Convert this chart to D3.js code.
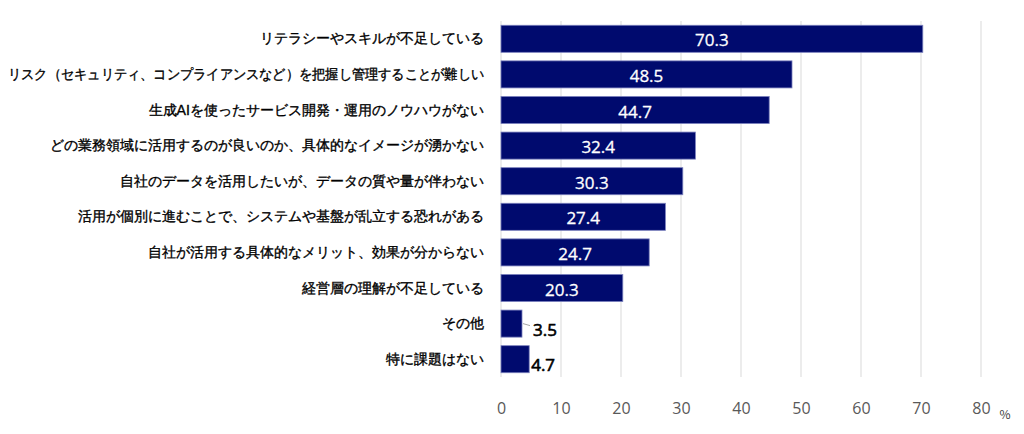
<!DOCTYPE html>
<html>
<head>
<meta charset="utf-8">
<script src="https://cdn.jsdelivr.net/npm/d3@7"></script>
<style>
  body { margin: 0; background: #fff; }
  svg { display: block; font-family: "Noto Sans CJK JP", "Noto Sans", sans-serif; }
  .cat { font-feature-settings: "palt" 1; }
</style>
</head>
<body>
<svg id="chart"></svg>
<script>
// Data
const categories = [
    'リテラシーやスキルが不足している',
    'リスク（セキュリティ、コンプライアンスなど）を把握し管理することが難しい',
    '生成AIを使ったサービス開発・運用のノウハウがない',
    'どの業務領域に活用するのが良いのか、具体的なイメージが湧かない',
    '自社のデータを活用したいが、データの質や量が伴わない',
    '活用が個別に進むことで、システムや基盤が乱立する恐れがある',
    '自社が活用する具体的なメリット、効果が分からない',
    '経営層の理解が不足している',
    'その他',
    '特に課題はない'
];
const values = [70.3, 48.5, 44.7, 32.4, 30.3, 27.4, 24.7, 20.3, 3.5, 4.7];
const tickValues = [0, 10, 20, 30, 40, 50, 60, 70, 80];

(function() {

    const w = 1024;
    const h = 434;
    const plotLeft = 501;
    const plotRight = 981;
    const plotTop = 21;
    const plotBottom = 377;

    const svg = d3.select('#chart').attr('width', w).attr('height', h);

    // Scales
    const scaleX = d3.scaleLinear().domain([0, 80]).range([plotLeft, plotRight]);
    const scaleY = d3.scaleBand().domain(categories).range([plotTop, plotBottom]).paddingInner(0.24).paddingOuter(0.12);

    // Grid lines
    svg.append('g')
        .selectAll('line')
        .data(tickValues)
        .enter()
        .append('line')
        .attr('x1', d => scaleX(d))
        .attr('x2', d => scaleX(d))
        .attr('y1', plotTop)
        .attr('y2', plotBottom)
        .attr('stroke', '#d9d9d9')
        .attr('stroke-width', 1);

    // X axis
    const xAxis = d3.axisBottom(scaleX).tickValues(tickValues).tickSize(0).tickPadding(0);
    const gx = svg.append('g')
        .attr('transform', `translate(0, ${plotBottom + 37})`)
        .call(xAxis);
    gx.select('.domain').remove();
    gx.selectAll('text')
        .attr('fill', '#595959')
        .attr('font-size', 16)
        .attr('dy', '0')
        .style('font-family', '"Open Sans", "Noto Sans", sans-serif');

    svg.append('text')
        .attr('x', 1005)
        .attr('y', 419)
        .attr('font-size', 12)
        .attr('fill', '#404040')
        .attr('text-anchor', 'middle')
        .text('%');

    // Y axis labels
    const yAxis = d3.axisLeft(scaleY).tickSize(0).tickPadding(17);
    const gy = svg.append('g')
        .attr('transform', `translate(${plotLeft}, 0)`)
        .call(yAxis);
    gy.select('.domain').remove();
    gy.selectAll('text')
        .attr('class', 'cat')
        .attr('fill', '#000')
        .attr('stroke', '#000')
        .attr('stroke-width', 0.35)
        .attr('font-size', 14.2)
        .attr('font-weight', 400);

    // squeeze labels that still run past the left edge
    gy.selectAll('text').each(function() {
        const len = this.getComputedTextLength();
        if (len > 476) {
            d3.select(this).attr('textLength', 476).attr('lengthAdjust', 'spacingAndGlyphs');
        }
    });

    // Bars
    svg.selectAll('rect.bar')
        .data(values)
        .enter()
        .append('rect')
        .attr('class', 'bar')
        .attr('x', scaleX(0))
        .attr('y', (d, i) => scaleY(categories[i]))
        .attr('width', d => scaleX(d) - scaleX(0))
        .attr('height', scaleY.bandwidth())
        .attr('fill', '#000a6e')
        .attr('stroke', '#7a80bd')
        .attr('stroke-width', 0.8);

    // Value labels
    const isSmall = d => d < 10;
    const midY = d => scaleY(categories[values.indexOf(d)]) + scaleY.bandwidth() / 2;

    // leader line for the tiniest bar
    svg.selectAll('line.leader')
        .data(values.filter(d => d < 4))
        .enter()
        .append('line')
        .attr('class', 'leader')
        .attr('x1', d => scaleX(d) + 1)
        .attr('x2', d => scaleX(d) + 8)
        .attr('y1', d => midY(d))
        .attr('y2', d => midY(d) + 2)
        .attr('stroke', '#a6a6a6')
        .attr('stroke-width', 1);

    svg.selectAll('text.val')
        .data(values)
        .enter()
        .append('text')
        .attr('class', 'val')
        .attr('x', d => isSmall(d) ? scaleX(d) + (d < 4 ? 11 : 2) : (scaleX(0) + scaleX(d)) / 2)
        .attr('y', d => midY(d) + (isSmall(d) ? 12 : 7.5))
        .attr('text-anchor', d => isSmall(d) ? 'start' : 'middle')
        .attr('fill', d => isSmall(d) ? '#000' : '#fff')
        .attr('stroke', d => isSmall(d) ? '#000' : '#fff')
        .attr('stroke-width', d => isSmall(d) ? 0.6 : 0.3)
        .attr('font-size', 17)
        .attr('font-weight', 400)
        .style('font-family', '"Open Sans", "Noto Sans", sans-serif')
        .text(d => d.toFixed(1));

})();
</script>
</body>
</html>
